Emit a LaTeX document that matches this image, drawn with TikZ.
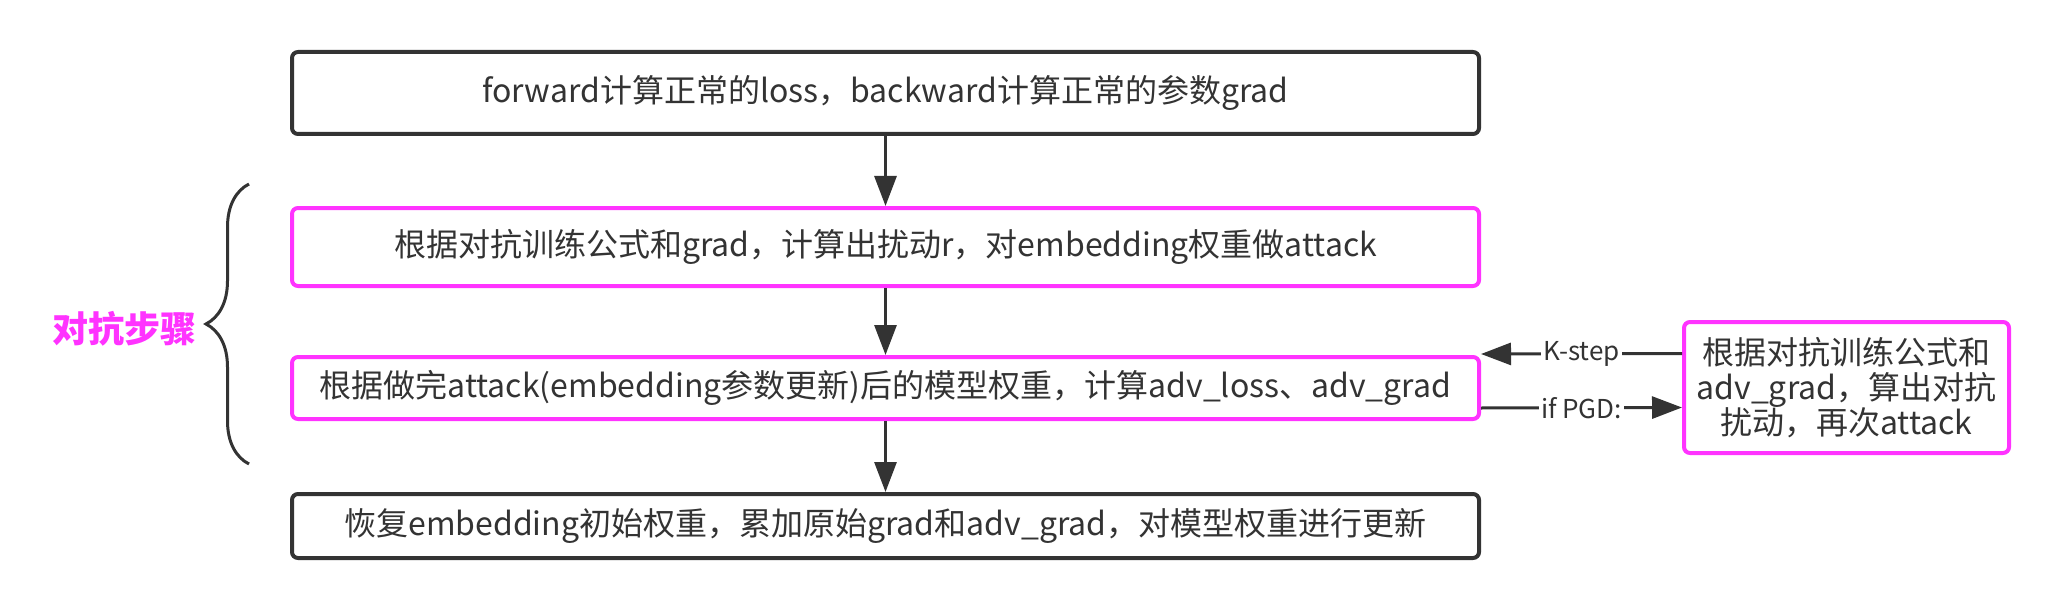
\documentclass[tikz,border=0pt]{standalone}
\usepackage{fontspec}
\newfontfamily\cjk{Noto Sans CJK SC}
\usetikzlibrary{arrows.meta, decorations.pathreplacing}
\definecolor{graphc1}{RGB}{51,51,51}
\definecolor{graphc2}{RGB}{255,51,255}
\tikzset{
	stepbox/.style={draw=graphc1, line width=2pt, rounded corners=3pt, minimum width=593.5pt, inner sep=0pt, text=graphc1, font=\cjk\fontsize{16}{17.5}\selectfont},
	advbox/.style={stepbox, draw=graphc2},
	flow/.style={-{Triangle[length=15pt,width=11pt]}, draw=graphc1, line width=1.5pt},
	lbl/.style={fill=white, inner sep=1pt, text=graphc1, font=\cjk\fontsize{13}{15}\selectfont},
}
\begin{document}
\begin{tikzpicture}[x=0.5pt, y=-0.5pt]
		\useasboundingbox (0,0) rectangle (2062,610);
		\node[stepbox, minimum height=41pt] (n1) at (885.5,93) {forward计算正常的loss，backward计算正常的参数grad};
		\node[advbox, minimum height=39pt] (n2) at (885.5,247) {根据对抗训练公式和grad，计算出扰动r，对embedding权重做attack};
		\node[advbox, minimum height=31pt] (n3) at (885.5,388) {根据做完attack(embedding参数更新)后的模型权重，计算adv\_loss、adv\_grad};
		\node[stepbox, minimum height=32pt] (n4) at (885.5,526) {恢复embedding初始权重，累加原始grad和adv\_grad，对模型权重进行更新};
		
		\node[advbox, minimum width=162.5pt, minimum height=65.5pt, align=center] (n5) at (1846.5,387.5) {根据对抗训练公式和\\adv\_grad，算出对抗\\扰动，再次attack};
		\node[text=graphc2, font=\cjk\bfseries\fontsize{18}{20}\selectfont] (n6) at (124,329) {对抗步骤};
		
		\coordinate (b1) at (249,464);
		\coordinate (b2) at (249,184);
		\draw[decorate, decoration={brace, amplitude=21.5pt}, draw=graphc1, line width=1.5pt] (b1) -- (b2);
		
		\draw[flow] (n1) -- (n2);
		\draw[flow] (n2) -- (n3);
		\draw[flow] (n3) -- (n4);
		
		\draw[flow] ([yshift=17pt]n5.west) -- node[lbl] {K-step} ([yshift=17pt]n3.east);
		\draw[flow] ([yshift=-10pt]n3.east) -- node[lbl] {if PGD:} ([yshift=-10pt]n5.west);
		\end{tikzpicture}
\end{document}
